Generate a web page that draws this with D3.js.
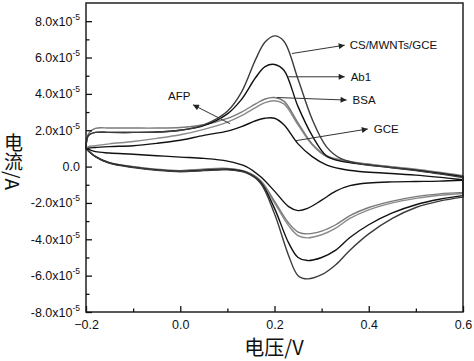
<!DOCTYPE html>
<html>
<head>
<meta charset="utf-8">
<script src="https://cdn.jsdelivr.net/npm/d3@7"></script>
<style>
  body { margin: 0; background: #fff; }
  text { font-family: "Liberation Sans", Arial, sans-serif; fill: #111; }
</style>
</head>
<body>
<svg id="chart" width="474" height="361"></svg>
<script>
// potential grids (V): forward scan -0.2 -> 0.6, then reverse scan 0.6 -> -0.2
const eFwd = [-0.2, -0.195, -0.18, -0.15, -0.1, -0.05, 0, 0.05, 0.1, 0.13, 0.16, 0.18, 0.2, 0.22, 0.25, 0.28, 0.31, 0.34, 0.38, 0.43, 0.5, 0.6];
const eRev = [0.6, 0.55, 0.5, 0.45, 0.4, 0.36, 0.33, 0.3, 0.27, 0.25, 0.23, 0.2, 0.17, 0.14, 0.1, 0.05, 0, -0.05, -0.1, -0.15, -0.18, -0.2];

// currents in units of 1e-5 A
const fwdCS  = [1.0, 1.7, 1.88, 1.88, 1.88, 1.9, 2.0, 2.3, 3.05, 4.1, 5.9, 6.85, 7.19, 6.9, 4.8, 2.6, 1.1, 0.45, 0.15, 0.0, -0.22, -0.6];
const fwdAb1 = [1.0, 1.7, 1.88, 1.88, 1.88, 1.9, 2.0, 2.25, 2.9, 3.7, 4.9, 5.5, 5.62, 5.3, 3.3, 1.7, 0.6, 0.3, 0.15, 0.0, -0.2, -0.55];
const fwdBSA = [1.0, 1.8, 2.1, 2.12, 2.12, 2.12, 2.15, 2.3, 2.65, 3.0, 3.45, 3.72, 3.8, 3.6, 2.4, 1.25, 0.6, 0.38, 0.2, 0.05, -0.15, -0.5];
const fwdAFP = [1.0, 1.1, 1.15, 1.25, 1.38, 1.55, 1.75, 2.05, 2.45, 2.8, 3.25, 3.52, 3.62, 3.45, 2.3, 1.2, 0.55, 0.35, 0.18, 0.02, -0.18, -0.55];
const fwdGCE = [1.0, 1.02, 1.05, 1.1, 1.15, 1.28, 1.45, 1.72, 1.95, 2.2, 2.52, 2.66, 2.66, 2.3, 1.25, 0.55, 0.1, -0.12, -0.27, -0.35, -0.47, -0.72];

const revCS  = [-1.68, -1.9, -2.25, -2.85, -3.7, -4.6, -5.4, -5.95, -6.18, -6.0, -4.9, -2.6, -0.9, -0.35, -0.18, -0.22, -0.28, -0.2, -0.05, 0.18, 0.55, 1.0];
const revAb1 = [-1.6, -1.8, -2.1, -2.55, -3.2, -3.9, -4.6, -5.0, -5.17, -5.0, -4.2, -2.3, -0.85, -0.32, -0.15, -0.2, -0.26, -0.18, -0.03, 0.2, 0.55, 1.0];
const revBSA = [-1.42, -1.5, -1.65, -1.9, -2.25, -2.7, -3.2, -3.55, -3.7, -3.6, -3.1, -1.9, -0.75, -0.28, -0.1, -0.14, -0.22, -0.15, 0.0, 0.22, 0.57, 1.0];
const revAFP = [-1.48, -1.58, -1.75, -2.0, -2.38, -2.85, -3.38, -3.75, -3.92, -3.8, -3.25, -2.0, -0.8, -0.3, -0.12, -0.16, -0.24, -0.17, 0.0, 0.2, 0.55, 1.0];
const revGCE = [-0.75, -0.8, -0.82, -0.84, -0.9, -1.05, -1.35, -1.85, -2.3, -2.42, -2.2, -1.35, -0.55, 0.0, 0.3, 0.45, 0.52, 0.6, 0.68, 0.75, 0.82, 1.0];

const seriesNames = ["CS/MWNTs/GCE", "Ab1", "BSA", "AFP", "GCE"];
const seriesColors = ["#3c3c3c", "#111111", "#7a7a7a", "#8a8a8a", "#111111"];

const xTicks = [-0.2, 0.0, 0.2, 0.4, 0.6];
const xMinor = [-0.1, 0.1, 0.3, 0.5];
const yTicks = [-8, -6, -4, -2, 0, 2, 4, 6, 8];
const yMinor = [-7, -5, -3, -1, 1, 3, 5, 7];

// annotation arrows: [tailE, tailI, headE, headI], label placed at head
const notes = [
  { text: "CS/MWNTs/GCE", arrow: [0.237, 6.22, 0.349, 6.68], dx: 5, dy: 4 },
  { text: "Ab1", arrow: [0.229, 4.94, 0.349, 4.94], dx: 6, dy: 4 },
  { text: "BSA", arrow: [0.205, 3.80, 0.353, 3.66], dx: 6, dy: 4 },
  { text: "GCE", arrow: [0.244, 1.42, 0.398, 2.07], dx: 6, dy: 4 },
  { text: "AFP", arrow: [0.106, 2.36, 0.027, 3.40], dx: -25, dy: -5 }
];

const svg = d3.select("#chart");
const x = d3.scaleLinear().domain([-0.2, 0.6]).range([86, 463]);
const y = d3.scaleLinear().domain([-8, 9]).range([312, 3]);

const fwd = [fwdCS, fwdAb1, fwdBSA, fwdAFP, fwdGCE];
const rev = [revCS, revAb1, revBSA, revAFP, revGCE];
const series = seriesNames.map((name, i) => ({
  name,
  color: seriesColors[i],
  fwd: eFwd.map((e, j) => [e, fwd[i][j]]),
  rev: eRev.map((e, j) => [e, rev[i][j]])
}));

const line = d3.line()
  .x(d => x(d[0]))
  .y(d => y(d[1]))
  .curve(d3.curveCatmullRom.alpha(0.5));

svg.append("defs").append("marker")
  .attr("id", "arr")
  .attr("viewBox", "0 0 10 10")
  .attr("refX", 10).attr("refY", 5)
  .attr("markerWidth", 8).attr("markerHeight", 6)
  .attr("markerUnits", "userSpaceOnUse")
  .attr("orient", "auto")
  .append("path").attr("d", "M0,0L10,5L0,10z").attr("fill", "#222");

// curves: each scan drawn as one path, switching step at 0.6 V joined with L
svg.append("g").selectAll("path")
  .data(series.slice().reverse())
  .join("path")
  .attr("d", d => line(d.fwd) + "L" + line(d.rev).slice(1))
  .attr("fill", "none")
  .attr("stroke", d => d.color)
  .attr("stroke-width", 1.4)
  .attr("stroke-linejoin", "round");

// frame
svg.append("rect")
  .attr("x", 86).attr("y", 3).attr("width", 377).attr("height", 309)
  .attr("fill", "none").attr("stroke", "#222").attr("stroke-width", 1.5);

// axes with inward ticks
const xAxis = svg.append("g").attr("transform", "translate(0,312)");
xAxis.append("g").call(d3.axisBottom(x).tickValues(xTicks).tickSize(-6).tickFormat(d3.format(".1f")))
  .call(g => g.select(".domain").remove())
  .call(g => g.selectAll("line").attr("stroke", "#111").attr("stroke-width", 1.3))
  .call(g => g.selectAll("text").attr("y", 17).attr("dy", 0)
    .style("font-size", "12.5px").style("font-family", "Liberation Sans, Arial, sans-serif").attr("fill", "#111"));
xAxis.append("g").call(d3.axisBottom(x).tickValues(xMinor).tickSize(-3.5).tickFormat(""))
  .call(g => g.select(".domain").remove())
  .call(g => g.selectAll("line").attr("stroke", "#111").attr("stroke-width", 1.3));

const yAxis = svg.append("g").attr("transform", "translate(86,0)");
yAxis.append("g").call(d3.axisLeft(y).tickValues(yTicks).tickSize(-6).tickFormat(""))
  .call(g => g.select(".domain").remove())
  .call(g => g.selectAll("line").attr("stroke", "#111").attr("stroke-width", 1.3));
yAxis.append("g").call(d3.axisLeft(y).tickValues(yMinor).tickSize(-3.5).tickFormat(""))
  .call(g => g.select(".domain").remove())
  .call(g => g.selectAll("line").attr("stroke", "#111").attr("stroke-width", 1.3));

// y tick labels like 8.0x10^-5
const yl = svg.append("g").selectAll("text")
  .data(yTicks)
  .join("text")
  .attr("x", 80)
  .attr("y", d => y(d) + 4.5)
  .attr("text-anchor", "end")
  .style("font-size", "12.5px");
yl.each(function (d) {
  const t = d3.select(this);
  if (d === 0) { t.text("0.0"); return; }
  t.append("tspan").text(d3.format(".1f")(d).replace("−", "-") + "x10");
  t.append("tspan").text("-5").attr("dy", -6).style("font-size", "8.5px");
});

// annotations
const ann = svg.append("g");
notes.forEach(n => {
  const [e0, i0, e1, i1] = n.arrow;
  ann.append("line")
    .attr("x1", x(e0)).attr("y1", y(i0))
    .attr("x2", x(e1)).attr("y2", y(i1))
    .attr("stroke", "#333").attr("stroke-width", 1)
    .attr("marker-end", "url(#arr)");
  ann.append("text")
    .attr("x", x(e1) + n.dx).attr("y", y(i1) + n.dy)
    .style("font-size", "11.5px")
    .text(n.text);
});

// axis titles
svg.append("text")
  .attr("x", 274).attr("y", 355)
  .attr("text-anchor", "middle")
  .style("font-family", "'Noto Sans CJK SC', sans-serif")
  .style("font-size", "20px")
  .text("电压/V");

svg.append("text")
  .attr("x", 13.5).attr("y", 133)
  .style("writing-mode", "vertical-rl")
  .style("font-family", "'Noto Sans CJK SC', sans-serif")
  .style("font-size", "19px")
  .text("电流/A");
</script>
</body>
</html>
